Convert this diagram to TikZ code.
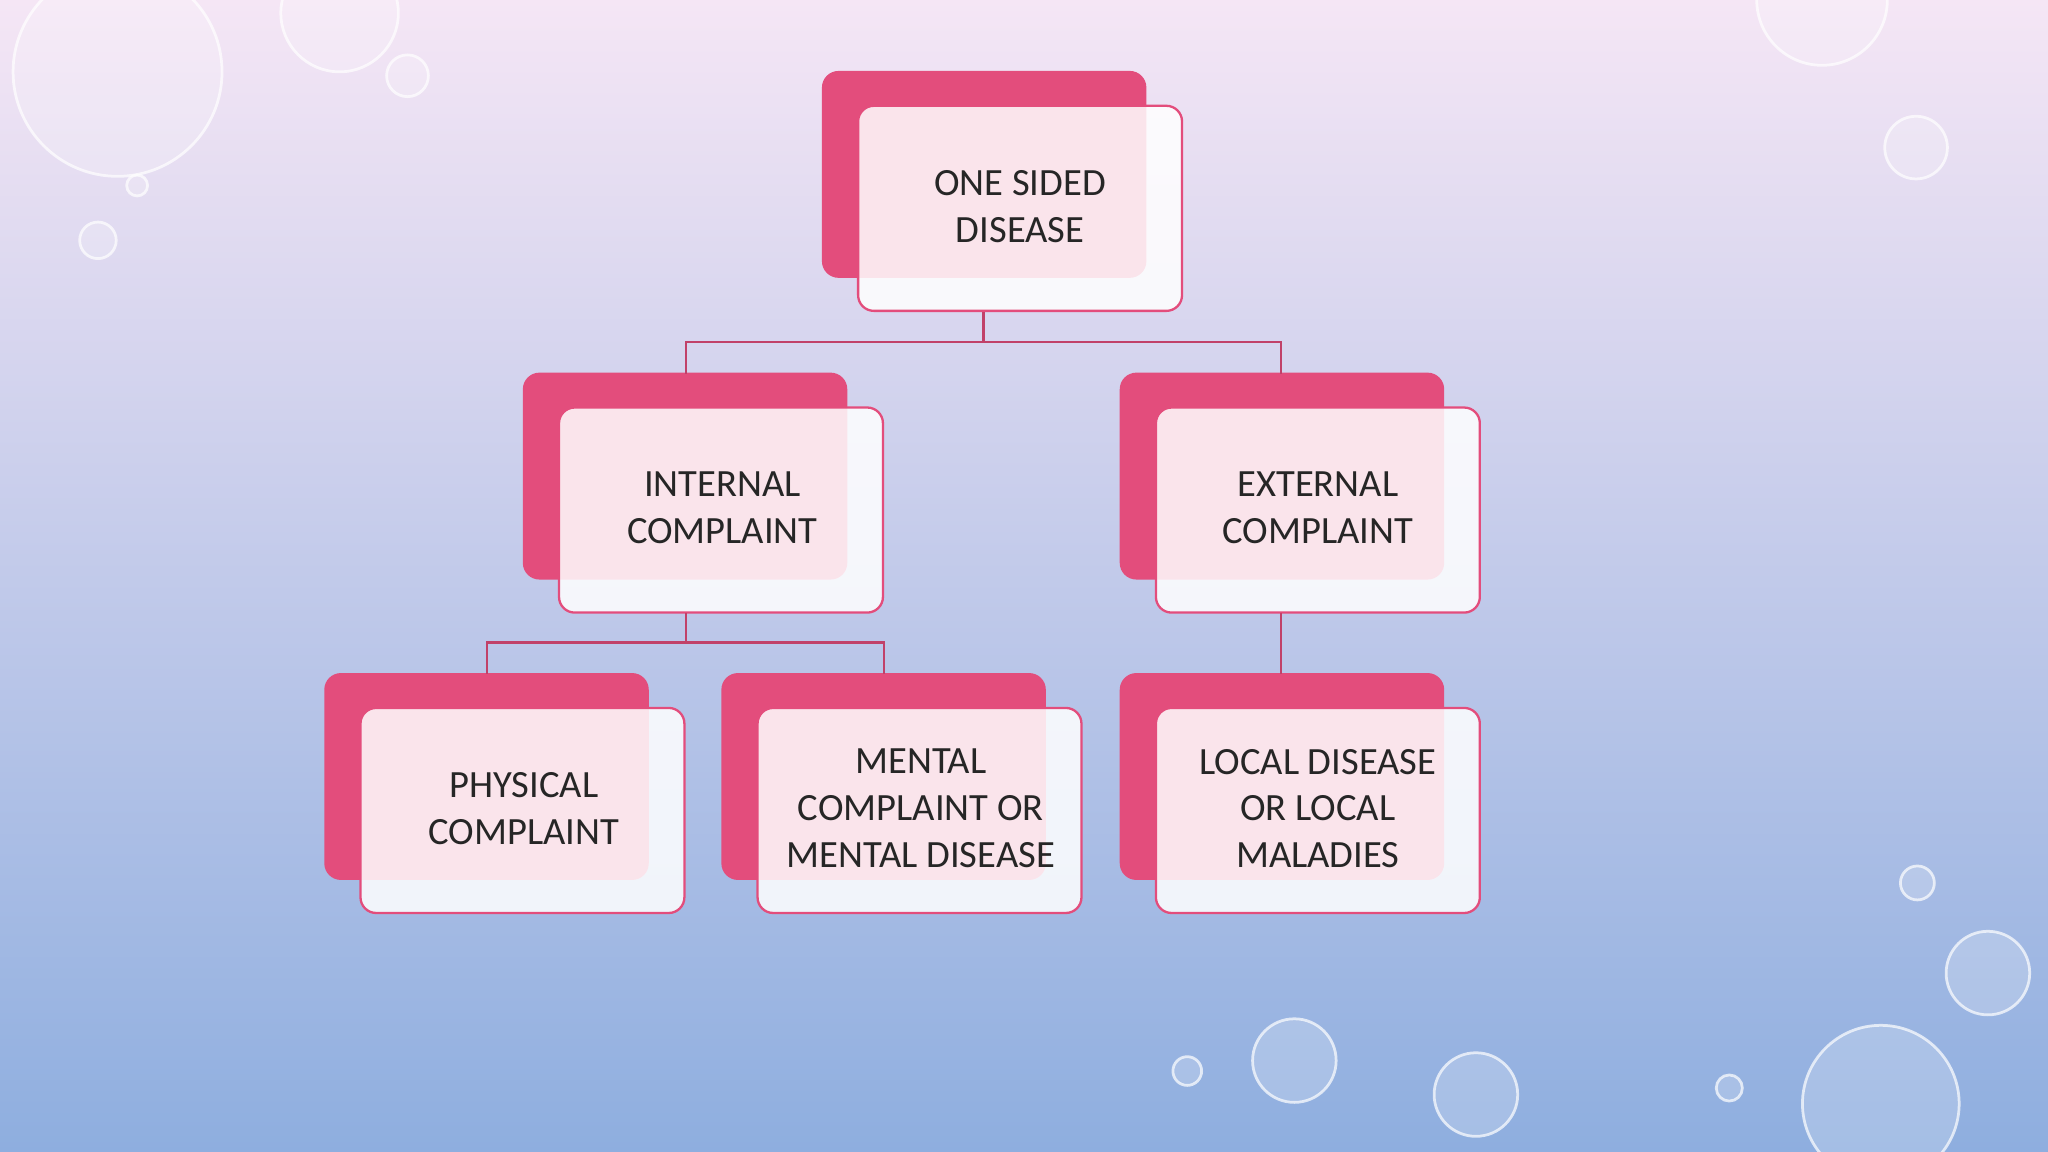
\documentclass[tikz,border=0pt]{standalone}
\usepackage{fontspec}
\setmainfont{Carlito}
\begin{document}
\begin{tikzpicture}[x=0.1mm,y=-0.1mm,
  back/.style={fill=pinkb,draw=pinkb,rounded corners=1.2mm},
  front/.style={fill=white,fill opacity=0.85,draw=pinkb,line width=0.5pt,rounded corners=1.2mm},
  lbl/.style={font=\fontsize{8.4}{10.2}\selectfont,align=center,text=black!85},
  conn/.style={draw=pinkb!85!black,line width=0.5pt},
  bub/.style={draw=white,draw opacity=0.7,line width=0.6pt,fill=white,fill opacity=0.2}]
\definecolor{pinkb}{HTML}{E34D7C}
\definecolor{bgtop}{HTML}{F5E6F5}
\definecolor{bgmid}{HTML}{E3D3EE}
\definecolor{bgbot}{HTML}{8EAEDF}
\shade[top color=bgtop,middle color=bgmid,bottom color=bgbot] (0,0) rectangle (1568,882);
\useasboundingbox (0,0) rectangle (1568,882);
% bubbles
\foreach \x/\y/\r in {90/55/80,260/10/45,312/58/16,105/142/8,75/184/14,1395/0/50,1467/113/24,1468/676/13,1522/745/32,991/812/32,1130/838/32,909/820/11,1324/833/10,1440/845/60}
  \draw[bub] (\x,\y) circle (\r);
% boxes
\newcommand{\dbox}[2]{%
  \draw[back] (#1,#2) rectangle ++(247,157);
  \draw[front] (#1+27,#2+26) rectangle ++(248,157);
}
\dbox{630}{55}
\dbox{401}{286}
\dbox{858}{286}
\dbox{249}{516}
\dbox{553}{516}
\dbox{858}{516}
\node[lbl] (top) at (781,158) {ONE SIDED\\DISEASE};
\node[lbl] (int) at (553,389) {INTERNAL\\COMPLAINT};
\node[lbl] (ext) at (1009,389) {EXTERNAL\\COMPLAINT};
\node[lbl] (phy) at (401,619) {PHYSICAL\\COMPLAINT};
\node[lbl] (men) at (705,619) {MENTAL\\COMPLAINT OR\\MENTAL DISEASE};
\node[lbl] (loc) at (1009,619) {LOCAL DISEASE\\OR LOCAL\\MALADIES};
\coordinate (a1) at (753,239); \coordinate (a2) at (525,286); \coordinate (a3) at (981,286);
\draw[conn] (a1) -- (753,262) -| (a2);
\draw[conn] (753,262) -| (a3);
\coordinate (b1) at (525,469); \coordinate (b2) at (373,516); \coordinate (b3) at (677,516);
\draw[conn] (b1) -- (525,492) -| (b2);
\draw[conn] (525,492) -| (b3);
\coordinate (c1) at (981,469); \coordinate (c2) at (981,516);
\draw[conn] (c1) -- (c2);
\end{tikzpicture}
\end{document}
